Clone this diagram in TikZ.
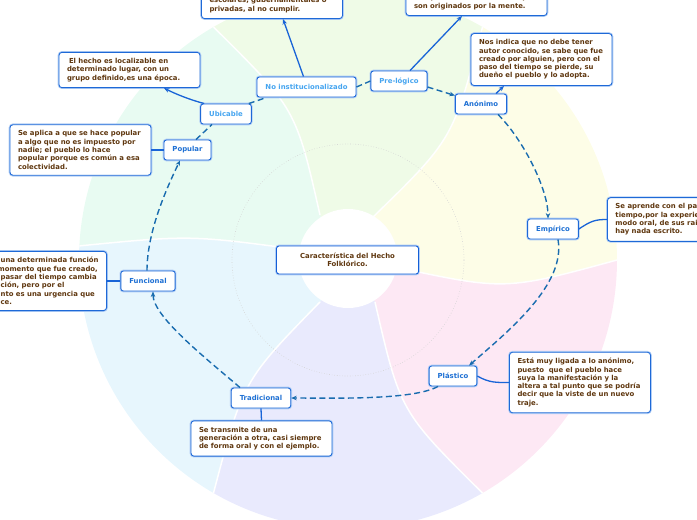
\documentclass[tikz,border=0pt]{standalone}
\usepackage{fontspec}
\setmainfont{DejaVu Sans}
\usetikzlibrary{arrows.meta}
\definecolor{bordc}{RGB}{30,105,215}
\definecolor{centc}{RGB}{20,95,215}
\definecolor{glowc}{RGB}{178,206,245}
\definecolor{labc}{RGB}{30,112,212}
\definecolor{lightlab}{RGB}{70,165,240}
\definecolor{notec}{RGB}{95,55,15}
\definecolor{arrc}{RGB}{25,100,215}
\definecolor{dashc}{RGB}{25,108,175}
\definecolor{dotc}{RGB}{212,212,212}
\definecolor{secmint}{RGB}{232,251,242}
\definecolor{secgreen}{RGB}{239,251,231}
\definecolor{secyellow}{RGB}{253,253,231}
\definecolor{secpink}{RGB}{253,232,244}
\definecolor{seclav}{RGB}{233,234,253}
\definecolor{secblue}{RGB}{231,246,253}
\begin{document}
\begin{tikzpicture}[x=1pt,y=-1pt,
 topic/.style={draw=bordc, line width=0.9pt, rounded corners=2.5pt, fill=white,
   preaction={draw=glowc,line width=2.6pt},
   font=\fontsize{6.9}{8.3}\selectfont\bfseries, text=labc,
   inner xsep=8.5pt, inner ysep=0pt, minimum height=20pt},
 note/.style={draw=bordc, line width=0.9pt, rounded corners=3pt, fill=white,
   preaction={draw=glowc,line width=2.6pt},
   font=\fontsize{6.9}{8.3}\selectfont\bfseries, text=notec, align=left,
   inner xsep=8pt, inner ysep=6pt},
 wide/.style={text width=125pt},
 link/.style={draw=arrc, line width=1.3pt},
 linkarrow/.style={link, -{Stealth[length=5.5pt,width=4.5pt]}},
 cyc/.style={draw=dashc, line width=1.4pt, dash pattern=on 6pt off 3.5pt},
 cycarrow/.style={cyc, -{Stealth[length=5.5pt,width=4.5pt]}},
 border/.style={white, line width=1.5pt}
]
\useasboundingbox (0,0) rectangle (697,520);
% ---------- background pinwheel ----------
\coordinate (O) at (348,260);
\coordinate (P1) at (320,215); \coordinate (C1) at (295.9,108.7); \coordinate (Q1) at (213.5,27);  \coordinate (R1) at (138,-103.7);
\coordinate (P2) at (372,218); \coordinate (C2) at (453,139.2);   \coordinate (Q2) at (482.5,27);  \coordinate (R2) at (558,-103.7);
\coordinate (P3) at (395,267); \coordinate (C3) at (505.1,290.5); \coordinate (Q3) at (617,260);   \coordinate (R3) at (768,260);
\coordinate (P4) at (375,302); \coordinate (C4) at (400.1,411.3); \coordinate (Q4) at (482.5,493); \coordinate (R4) at (558,623.7);
\coordinate (P5) at (320,302); \coordinate (C5) at (243,380.8);   \coordinate (Q5) at (213.5,493); \coordinate (R5) at (138,623.7);
\coordinate (P6) at (302,250); \coordinate (C6) at (190,235);     \coordinate (Q6) at (79.4,245.9); \coordinate (R6) at (-71.4,238);
\begin{scope}
\clip (O) circle (269pt);
\fill[secgreen]  (P1) .. controls (C1) .. (Q1) -- (R1) -- (R2) -- (Q2) .. controls (C2) .. (P2) -- (O) -- cycle;
\fill[secyellow] (P2) .. controls (C2) .. (Q2) -- (R2) -- (R3) -- (Q3) .. controls (C3) .. (P3) -- (O) -- cycle;
\fill[secpink]   (P3) .. controls (C3) .. (Q3) -- (R3) -- (R4) -- (Q4) .. controls (C4) .. (P4) -- (O) -- cycle;
\fill[seclav]    (P4) .. controls (C4) .. (Q4) -- (R4) -- (R5) -- (Q5) .. controls (C5) .. (P5) -- (O) -- cycle;
\fill[secblue]   (P5) .. controls (C5) .. (Q5) -- (R5) -- (R6) -- (Q6) .. controls (C6) .. (P6) -- (O) -- cycle;
\fill[secmint]   (P6) .. controls (C6) .. (Q6) -- (R6) -- (R1) -- (Q1) .. controls (C1) .. (P1) -- (O) -- cycle;
\draw[border] (P1) .. controls (C1) .. (Q1);
\draw[border] (P2) .. controls (C2) .. (Q2);
\draw[border] (P3) .. controls (C3) .. (Q3);
\draw[border] (P4) .. controls (C4) .. (Q4);
\draw[border] (P5) .. controls (C5) .. (Q5);
\draw[border] (P6) .. controls (C6) .. (Q6);
\end{scope}
\draw[dotc, dotted, line width=0.6pt] (O) circle (116pt);
\fill[white] (348,258.5) circle (49.5pt);
% ---------- nodes ----------
\node[topic, draw=centc, text=notec, align=center, text width=125pt, minimum height=28pt] (center) at (347.5,260) {Característica del Hecho\\Folklórico.};
\node[topic, text=lightlab] (noinst) at (306.5,87) {No institucionalizado};
\node[topic, text=lightlab] (prelog) at (399,81) {Pre-lógico};
\node[topic] (anon) at (481,104) {Anónimo};
\node[topic, text=lightlab] (ubic) at (226,114) {Ubicable};
\node[topic] (popu) at (187.5,150) {Popular};
\node[topic] (func) at (148,281) {Funcional};
\node[topic] (trad) at (261,398) {Tradicional};
\node[topic] (plast) at (453,376) {Plástico};
\node[topic] (empi) at (553,229) {Empírico};
% notes
\node[note, wide, anchor=south] (n_topleft) at (272,19) {escolares, gubernamentales o\\privadas, al no cumplir.};
\node[note, wide, anchor=south] (n_topright) at (476.5,16) {Se aplica más a los hechos que\\son originados por la mente.};
\node[note, wide] (n_anon) at (541.5,59.5) {Nos indica que no debe tener\\autor conocido, se sabe que fue\\creado por alguien, pero con el\\paso del tiempo se pierde, su\\dueño el pueblo y lo adopta.};
\node[note, wide] (n_ubic) at (129.5,70) {\hspace*{2pt}El hecho es localizable en\\determinado lugar, con un\\grupo definido,es una época.};
\node[note, wide] (n_popu) at (80.5,150) {Se aplica a que se hace popular\\a algo que no es impuesto por\\nadie; el pueblo lo hace\\popular porque es común a esa\\colectividad.};
\node[note, anchor=east] (n_func) at (107,281) {una determinada función\\\hspace*{-3pt}momento que fue creado,\\pasar del tiempo cambia\\ción, pero por el\\nto es una urgencia que\\ce.};
\node[note, anchor=west] (n_empi) at (607,219.5) {Se aprende con el pa\\tiempo,por la experie\\modo oral, de sus rai\\hay nada escrito.};
\node[note, wide] (n_plast) at (580,382.5) {Está muy ligada a lo anónimo,\\puesto\ \ que el pueblo hace\\suya la manifestación y la\\altera a tal punto que se podría\\decir que la viste de un nuevo\\traje.};
\node[note, wide] (n_trad) at (261.5,438.5) {Se transmite de una\\generación a otra, casi siempre\\de forma oral y con el ejemplo.};
% ---------- solid links ----------
\draw[linkarrow] ([xshift=-3pt]noinst.north) -- ([xshift=11pt]n_topleft.south);
\draw[linkarrow] ([xshift=11pt]prelog.north) -- ([xshift=-14.5pt]n_topright.south);
\draw[linkarrow] ([xshift=15pt]anon.north) -- ([xshift=-37.5pt]n_anon.south);
\draw[linkarrow] ([xshift=4pt]ubic.north west) .. controls +(-15,-4) and +(12,6) .. ([xshift=34.5pt]n_ubic.south);
\draw[link] (popu.west) -- (n_popu.east);
\draw[link] (func.west) -- (n_func.east);
\draw[link] (empi.east) .. controls +(12,-8) and +(-12,0) .. (n_empi.west);
\draw[link] (plast.east) .. controls +(12,7) and +(-12,0) .. (n_plast.west);
\draw[link] (trad.south) -- (n_trad.north);
% ---------- dashed cycle ----------
\draw[cyc] (noinst.east) -- (prelog.west);
\draw[cycarrow] ([yshift=-6pt]prelog.east) -- ([yshift=-2pt]anon.north west);
\draw[cycarrow] ([xshift=17pt]anon.south) .. controls +(25,25) and +(0,-30) .. ([xshift=-5pt]empi.north);
\draw[cycarrow] ([xshift=5pt]empi.south) .. controls +(8,45) and +(40,-35) .. ([xshift=16pt]plast.north);
\draw[cycarrow] ([xshift=-15pt]plast.south) .. controls +(-25,14) and +(40,0) .. (trad.east);
\draw[cycarrow] ([xshift=-21pt]trad.north) .. controls +(-35,-30) and +(0,25) .. ([xshift=5pt]func.south);
\draw[cycarrow] ([xshift=-1pt]func.north) .. controls +(0,-40) and +(-12,25) .. ([xshift=-7.5pt]popu.south);
\draw[cyc] ([xshift=8.5pt]popu.north) -- ([xshift=-14pt]ubic.south);
\draw[cyc] ([xshift=-3pt]ubic.north east) -- ([xshift=10pt]noinst.south west);
\end{tikzpicture}
\end{document}
